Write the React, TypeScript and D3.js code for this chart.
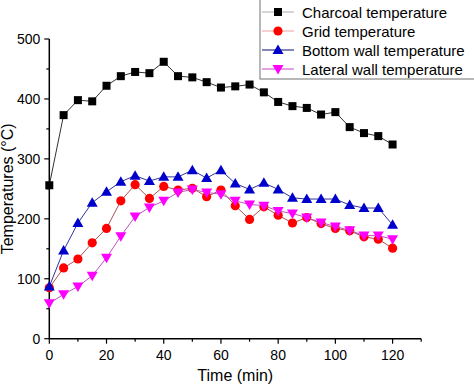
import React from "react";
import * as d3 from "d3";

const times = [0, 5, 10, 15, 20, 25, 30, 35, 40, 45, 50, 55, 60, 65, 70, 75, 80, 85, 90, 95, 100, 105, 110, 115, 120];
const charcoal = [256, 373, 398, 396, 422, 438, 445, 443, 462, 438, 436, 428, 419, 421, 424, 411, 395, 388, 385, 374, 378, 353, 343, 338, 324];
const grid = [85, 118, 133, 160, 184, 230, 257, 234, 254, 248, 251, 237, 248, 222, 199, 220, 206, 193, 202, 192, 184, 180, 170, 166, 151];
const bottomWall = [87, 147, 193, 227, 245, 262, 272, 263, 270, 270, 281, 268, 281, 259, 249, 260, 249, 235, 233, 233, 233, 223, 218, 218, 190];
const lateralWall = [59, 74, 87, 105, 135, 171, 204, 219, 230, 244, 249, 244, 241, 230, 224, 222, 213, 209, 202, 194, 187, 181, 172, 172, 166];
const xTicks = [0, 20, 40, 60, 80, 100, 120];
const yTicks = [0, 100, 200, 300, 400, 500];

const seriesNames = ["Charcoal temperature", "Grid temperature", "Bottom wall temperature", "Lateral wall temperature"];

type Series = { name: string; values: number[]; marker: string; fill: string; line: string; legendLine: string };

const series: Series[] = [
  { name: seriesNames[0], values: charcoal, marker: "square", fill: "#000000", line: "#333333", legendLine: "#bbbbbb" },
  { name: seriesNames[1], values: grid, marker: "circle", fill: "#ff0000", line: "#b05050", legendLine: "#f0b0b0" },
  { name: seriesNames[3], values: lateralWall, marker: "down", fill: "#ff00ff", line: "#c050c0", legendLine: "#d060d0" },
  { name: seriesNames[2], values: bottomWall, marker: "up", fill: "#0000cc", line: "#333399", legendLine: "#333388" },
];

const FONT = "'Liberation Sans', Arial, sans-serif";

function Marker({ type, x, y, fill }: { type: string; x: number; y: number; fill: string }) {
  if (type === "square") return <rect x={x - 4} y={y - 4} width={8} height={8} fill={fill} />;
  if (type === "circle") return <circle cx={x} cy={y} r={4.6} fill={fill} />;
  if (type === "up") return <path d={`M${x},${y - 5.5}L${x + 5.5},${y + 4}L${x - 5.5},${y + 4}Z`} fill={fill} />;
  return <path d={`M${x},${y + 5.5}L${x + 5.5},${y - 4}L${x - 5.5},${y - 4}Z`} fill={fill} />;
}

export default function App() {
  const W = 474, H = 386;
  const x = d3.scaleLinear().domain([0, 130]).range([49.3, 421.2]);
  const y = d3.scaleLinear().domain([0, 500]).range([338.7, 39]);
  const line = (vals: number[]) =>
    d3.line<number>().x((_, i) => x(times[i])).y((d) => y(d))(vals) || "";
  const xMinor = d3.range(10, 131, 20);
  const yMinor = d3.range(50, 500, 100);
  const legendRows = [12, 31, 50, 69];
  return (
    <div style={{ position: "fixed", left: 0, top: 0 }}>
      <svg width={W} height={H} style={{ display: "block", background: "#fff" }}>
        {/* axes */}
        <line x1={x(0)} x2={x(130)} y1={y(0)} y2={y(0)} stroke="#000" strokeWidth={1.5} />
        <line x1={x(0)} x2={x(0)} y1={y(0)} y2={y(500)} stroke="#000" strokeWidth={1.5} />
        {xTicks.map((t) => (
          <g key={"xt" + t}>
            <line x1={x(t)} x2={x(t)} y1={y(0)} y2={y(0) + 5} stroke="#000" strokeWidth={1.2} />
            <text x={x(t)} y={y(0) + 21} textAnchor="middle" fontFamily={FONT} fontSize={14}>{t}</text>
          </g>
        ))}
        {xMinor.map((t) => (
          <line key={"xm" + t} x1={x(t)} x2={x(t)} y1={y(0)} y2={y(0) + 3} stroke="#000" strokeWidth={1.2} />
        ))}
        {yTicks.map((t) => (
          <g key={"yt" + t}>
            <line x1={x(0) - 5} x2={x(0)} y1={y(t)} y2={y(t)} stroke="#000" strokeWidth={1.2} />
            <text x={x(0) - 9} y={y(t) + 5} textAnchor="end" fontFamily={FONT} fontSize={14}>{t}</text>
          </g>
        ))}
        {yMinor.map((t) => (
          <line key={"ym" + t} x1={x(0) - 3} x2={x(0)} y1={y(t)} y2={y(t)} stroke="#000" strokeWidth={1.2} />
        ))}
        <text x={(x(0) + x(130)) / 2} y={381} textAnchor="middle" fontFamily={FONT} fontSize={16}>Time (min)</text>
        <text transform={`translate(13,${(y(0) + y(500)) / 2}) rotate(-90)`} textAnchor="middle" fontFamily={FONT} fontSize={16}>Temperatures (°C)</text>

        {/* series */}
        {series.map((s) => (
          <g key={s.name}>
            <path d={line(s.values)} fill="none" stroke={s.line} strokeWidth={1} />
            {s.values.map((v, i) => (
              <Marker key={i} type={s.marker} x={x(times[i])} y={y(v)} fill={s.fill} />
            ))}
          </g>
        ))}

        {/* legend */}
        <rect x={260} y={-2} width={220} height={81} fill="#fff" stroke="#888" strokeWidth={1.2} />
        {seriesNames.map((nm, k) => {
          const s = series.find((q) => q.name === nm)!;
          const ly = legendRows[k];
          return (
            <g key={"lg" + k}>
              <line x1={262} x2={294} y1={ly} y2={ly} stroke={s.legendLine} strokeWidth={1.2} />
              <Marker type={s.marker} x={278} y={ly} fill={s.fill} />
              <text x={302} y={ly + 5.5} fontFamily={FONT} fontSize={15}>{s.name}</text>
            </g>
          );
        })}
      </svg>
    </div>
  );
}
